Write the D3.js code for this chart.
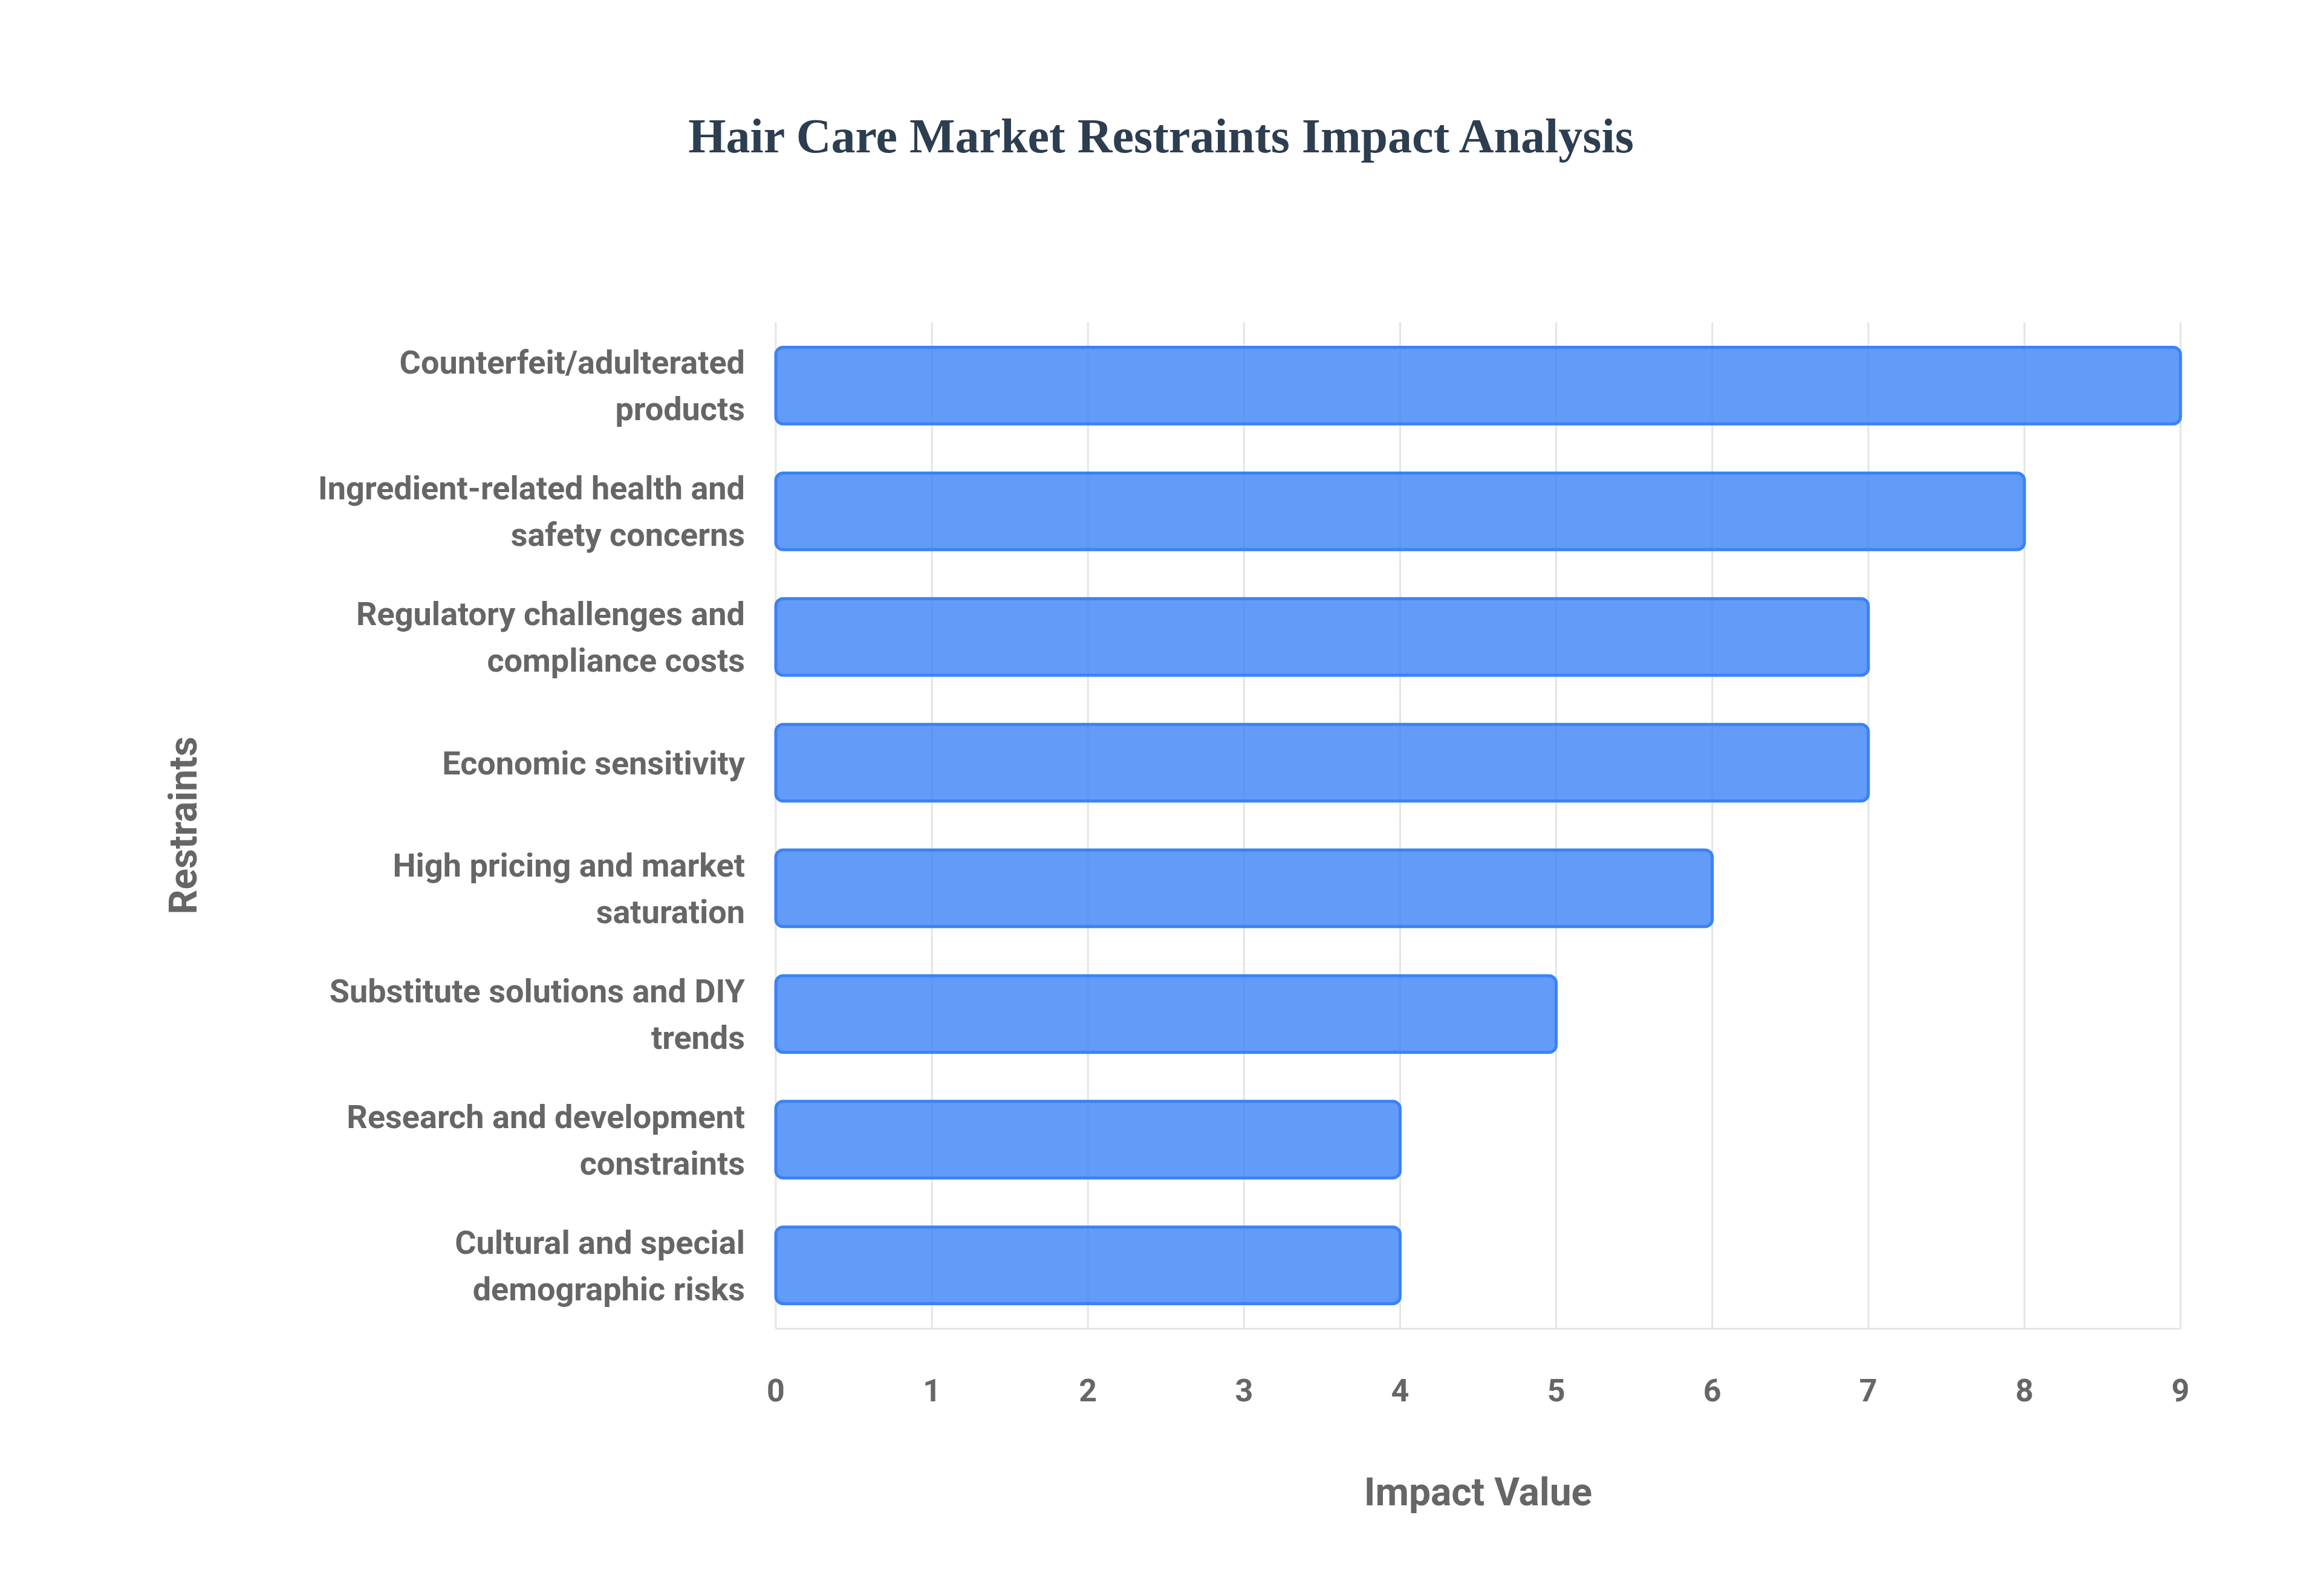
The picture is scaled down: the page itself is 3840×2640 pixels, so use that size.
<!DOCTYPE html>
<html>
  <head>
    <title>Hair Care Market Restraints</title>
    <script src="https://d3js.org/d3.v7.min.js"></script>
    <style>
      body { margin: 0; background: #fff; }
      text { font-family: Roboto, "Liberation Sans", sans-serif; }
    </style>
  </head>
  <body>
    <script>
      // Chart data
      var restraints = [
        ["Counterfeit/adulterated", "products"],
        ["Ingredient-related health and", "safety concerns"],
        ["Regulatory challenges and", "compliance costs"],
        ["Economic sensitivity"],
        ["High pricing and market", "saturation"],
        ["Substitute solutions and DIY", "trends"],
        ["Research and development", "constraints"],
        ["Cultural and special", "demographic risks"]
      ];
      var impactValues = [9, 8, 7, 7, 6, 5, 4, 4];
      var xTicks = [0, 1, 2, 3, 4, 5, 6, 7, 8, 9];

      var svgWidth = 3840, svgHeight = 2640;
      var plotLeft = 1283, plotRight = 3606, plotTop = 533, plotBottom = 2198;

      var svg = d3.select("body").append("svg")
                  .attr("width", svgWidth)
                  .attr("height", svgHeight);

      var xScale = d3.scaleLinear().domain([0, 9]).range([plotLeft, plotRight]);
      var yScale = d3.scaleBand()
                     .domain(d3.range(restraints.length))
                     .range([plotTop, plotBottom])
                     .paddingInner(0.39)
                     .paddingOuter(0.2);

      // Grid lines
      svg.append("g").selectAll("line")
         .data(xTicks).enter().append("line")
         .attr("x1", function(d) { return xScale(d); })
         .attr("x2", function(d) { return xScale(d); })
         .attr("y1", plotTop).attr("y2", plotBottom)
         .attr("stroke", "#e5e5e5").attr("stroke-width", 3);

      // Bottom axis line
      svg.append("line")
         .attr("x1", plotLeft).attr("x2", plotRight)
         .attr("y1", plotBottom).attr("y2", plotBottom)
         .attr("stroke", "#e5e5e5").attr("stroke-width", 3);

      // Bars
      svg.append("g").selectAll("rect")
         .data(impactValues).enter().append("rect")
         .attr("x", xScale(0))
         .attr("y", function(d, i) { return yScale(i); })
         .attr("width", function(d) { return xScale(d) - xScale(0); })
         .attr("height", yScale.bandwidth())
         .attr("rx", 12)
         .attr("fill", "rgba(59,130,246,0.8)")
         .attr("stroke", "#3b82f6")
         .attr("stroke-width", 5);

      // Category labels
      var labels = svg.append("g").selectAll("text")
         .data(restraints).enter().append("text")
         .attr("text-anchor", "end")
         .attr("font-size", "54px")
         .attr("font-weight", "bold")
         .attr("fill", "#666");
      labels.each(function(lines, i) {
        var cy = yScale(i) + yScale.bandwidth() / 2;
        var lh = 77;
        var y0 = cy - (lines.length - 1) * lh / 2 + 19;
        d3.select(this).selectAll("tspan").data(lines).enter().append("tspan")
          .attr("x", 1232)
          .attr("y", function(d, j) { return y0 + j * lh; })
          .text(function(d) { return d; });
      });

      // Tick labels
      svg.append("g").selectAll("text")
         .data(xTicks).enter().append("text")
         .attr("x", function(d) { return xScale(d); })
         .attr("y", 2318)
         .attr("text-anchor", "middle")
         .attr("font-size", "52px")
         .attr("font-weight", "bold")
         .attr("fill", "#666")
         .text(function(d) { return d; });

      // Axis titles
      svg.append("text")
         .attr("x", (plotLeft + plotRight) / 2).attr("y", 2490)
         .attr("text-anchor", "middle")
         .attr("font-size", "64px").attr("font-weight", "bold")
         .attr("fill", "#666").text("Impact Value");

      svg.append("text")
         .attr("transform", "translate(325," + ((plotTop + plotBottom) / 2) + ") rotate(-90)")
         .attr("text-anchor", "middle")
         .attr("font-size", "64px").attr("font-weight", "bold")
         .attr("fill", "#666").text("Restraints");

      // Title
      svg.append("text")
         .attr("x", svgWidth / 2).attr("y", 252)
         .attr("text-anchor", "middle")
         .style("font-family", "'Liberation Serif', 'DejaVu Serif', serif")
         .attr("font-size", "80px").attr("font-weight", "bold")
         .attr("fill", "#2c3e50")
         .text("Hair Care Market Restraints Impact Analysis");
    </script>
  </body>
</html>
